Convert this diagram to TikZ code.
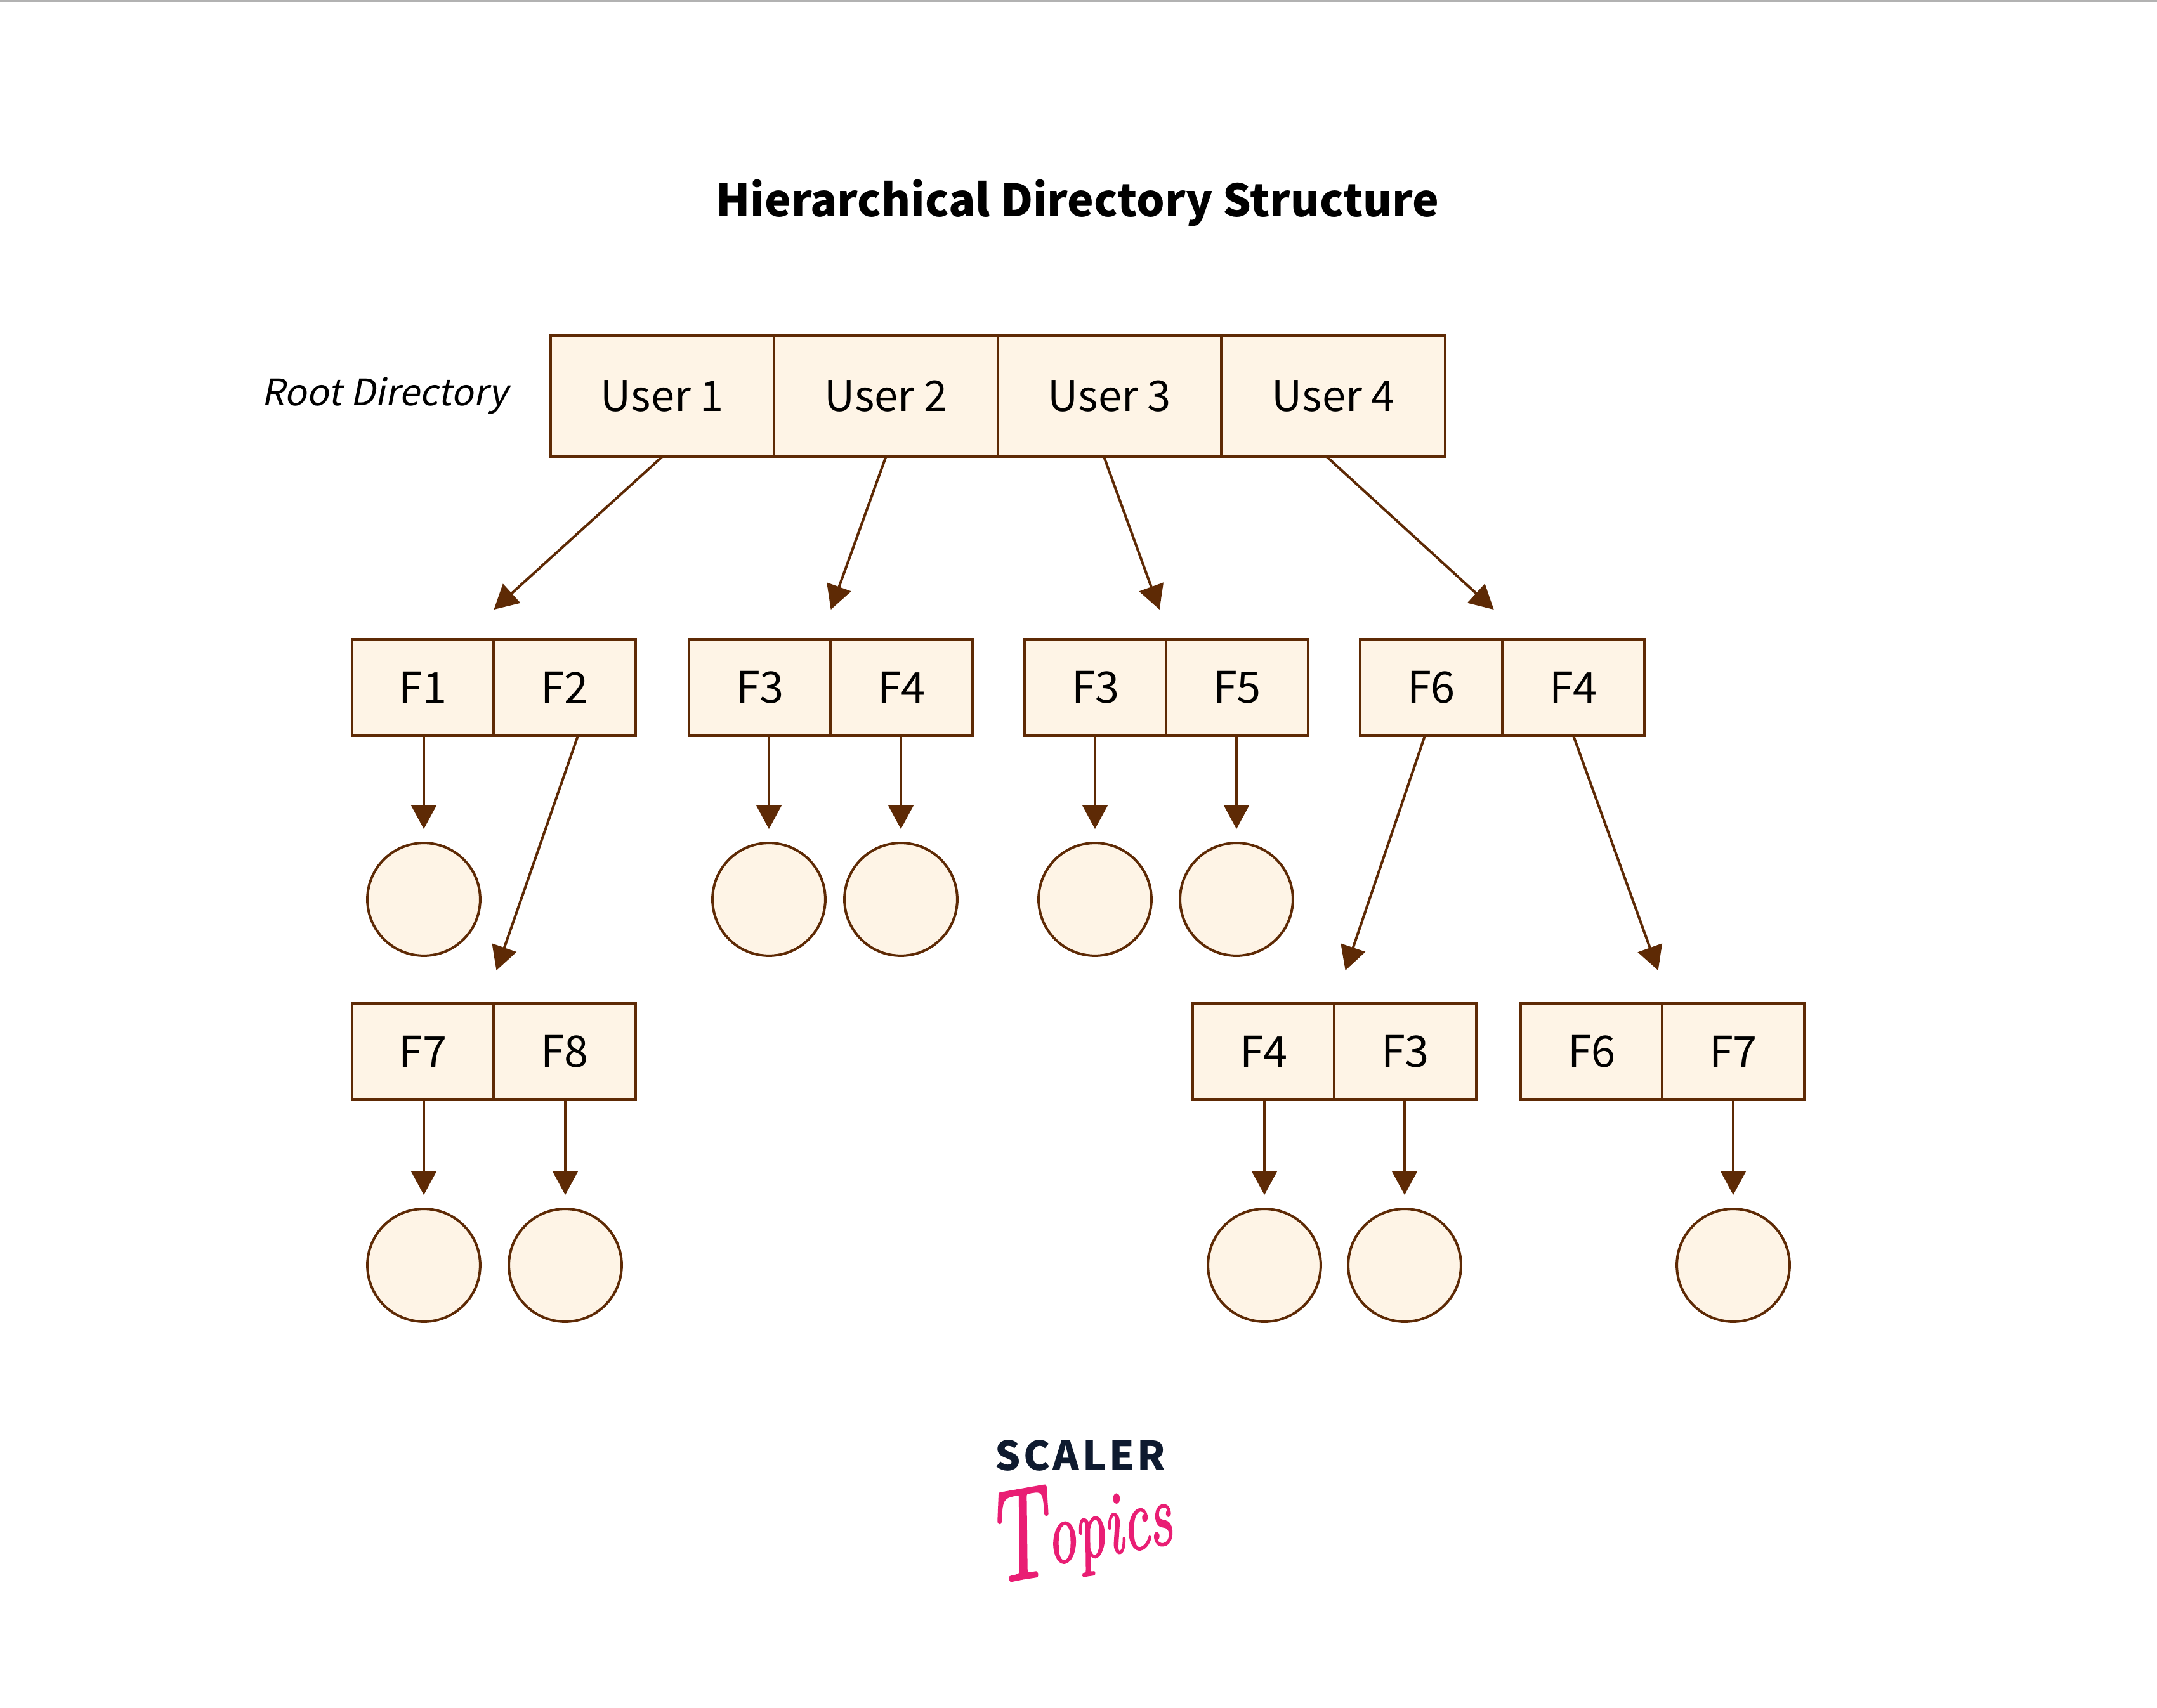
\documentclass[tikz,border=0pt]{standalone}
\usepackage{fontspec}
\setmainfont{Noto Sans CJK SC}
\newfontfamily\slantfont[FakeSlant=0.2]{Noto Sans CJK SC}
\newfontfamily\logofont[ItalicFeatures={FakeBold=2}]{Latin Modern Roman}
\usepackage{tikz}
\usetikzlibrary{arrows.meta,calc,positioning}
\usepackage{xcolor}
\definecolor{edgebrown}{HTML}{5E2A05}
\definecolor{cream}{HTML}{FEF4E6}
\definecolor{logonavy}{HTML}{0E1A2F}
\definecolor{logopink}{HTML}{E91E74}

\begin{document}
\begin{tikzpicture}[
  box/.style={draw=edgebrown, fill=cream, line width=0.04cm, inner sep=0pt, outer sep=0pt},
  user/.style={box, minimum width=3.529cm, minimum height=1.908cm, font=\fontsize{19}{24}\selectfont},
  file/.style={box, minimum width=2.233cm, minimum height=1.518cm, font=\fontsize{19.5}{24}\selectfont},
  leaf/.style={box, circle, minimum size=1.778cm},
  arr/.style={-{Triangle[length=0.38cm,width=0.4cm]}, draw=edgebrown, line width=0.04cm},
  down/.style={arr, shorten >=0.22cm},
]
\fill[white] (0,0) rectangle (34,26.92);
\useasboundingbox (0,0) rectangle (34,26.92);
\draw[color=black!30, line width=0.03cm] (0,26.905) -- (34,26.905);

% --- title ---
\node[font=\fontsize{20}{26}\selectfont\bfseries] (title) at (16.98, 23.72) {Hierarchical Directory Structure};

% --- root directory ---
\node[user] (user1) at (10.44, 20.675) {User 1};
\node[user] (user2) at (13.965, 20.675) {User 2};
\node[user] (user3) at (17.49, 20.675) {User 3};
\node[user] (user4) at (21.02, 20.675) {User 4};
\node[font=\fontsize{16.4}{20}\selectfont\slantfont, left=0.55cm of user1, yshift=0.01cm] (root) {Root Directory};

% --- second level ---
\node[file] (fa1) at (6.668, 16.08) {F1};
\node[file] (fa2) at (8.90, 16.08) {F2};
\node[file] (fb1) at (11.98, 16.08) {F3};
\node[file] (fb2) at (14.21, 16.08) {F4};
\node[file] (fc1) at (17.27, 16.08) {F3};
\node[file] (fc2) at (19.50, 16.08) {F5};
\node[file] (fd1) at (22.56, 16.08) {F6};
\node[file] (fd2) at (24.80, 16.08) {F4};

% --- third level ---
\node[file] (ga1) at (6.668, 10.34) {F7};
\node[file] (ga2) at (8.90, 10.34) {F8};
\node[file] (gb1) at (19.92, 10.34) {F4};
\node[file] (gb2) at (22.15, 10.34) {F3};
\node[file] (gc1) at (25.09, 10.34) {F6};
\node[file] (gc2) at (27.32, 10.34) {F7};

% --- files ---
\node[leaf] (la1) at (6.68, 12.74) {};
\node[leaf] (lb1) at (12.12, 12.74) {};
\node[leaf] (lb2) at (14.20, 12.74) {};
\node[leaf] (lc1) at (17.26, 12.74) {};
\node[leaf] (lc2) at (19.49, 12.74) {};
\node[leaf] (ma1) at (6.68, 6.97) {};
\node[leaf] (ma2) at (8.91, 6.97) {};
\node[leaf] (mb1) at (19.93, 6.97) {};
\node[leaf] (mb2) at (22.14, 6.97) {};
\node[leaf] (mc2) at (27.32, 6.97) {};

% free ends of the slanted arrows
\coordinate (tip1) at ([yshift=0.47cm]fa1.north east);
\coordinate (tip2) at ([yshift=0.47cm]fb1.north east);
\coordinate (tip3) at ([xshift=-0.11cm,yshift=0.47cm]fc1.north east);
\coordinate (tip4) at ([xshift=-0.13cm,yshift=0.47cm]fd1.north east);
\coordinate (tip5) at ([xshift=0.04cm,yshift=0.52cm]ga1.north east);
\coordinate (tip6) at ([xshift=0.17cm,yshift=0.52cm]gb1.north east);
\coordinate (tip7) at ([xshift=-0.07cm,yshift=0.52cm]gc1.north east);

% --- root to second level ---
\draw[arr] (user1.south) -- (tip1);
\draw[arr] (user2.south) -- (tip2);
\draw[arr] ([xshift=-0.09cm]user3.south) -- (tip3);
\draw[arr] ([xshift=-0.11cm]user4.south) -- (tip4);

% --- second level down ---
\draw[down] (la1.north |- fa1.south) -- (la1.north);
\draw[down] (lb1.north |- fb1.south) -- (lb1.north);
\draw[down] (lb2.north |- fb2.south) -- (lb2.north);
\draw[down] (lc1.north |- fc1.south) -- (lc1.north);
\draw[down] (lc2.north |- fc2.south) -- (lc2.north);
\draw[arr] ([xshift=0.21cm]fa2.south) -- (tip5);
\draw[arr] ([xshift=-0.1cm]fd1.south) -- (tip6);
\draw[arr] (fd2.south) -- (tip7);

% --- third level down ---
\draw[down] (ma1.north |- ga1.south) -- (ma1.north);
\draw[down] (ma2.north |- ga2.south) -- (ma2.north);
\draw[down] (mb1.north |- gb1.south) -- (mb1.north);
\draw[down] (mb2.north |- gb2.south) -- (mb2.north);
\draw[down] (mc2.north |- gc2.south) -- (mc2.north);

% --- logo ---
\node[font=\fontsize{18}{22}\selectfont\bfseries, text=logonavy, inner sep=0pt] (scaler) at (17.03, 3.97) {S\kern0.07em C\kern0.07em A\kern0.07em L\kern0.07em E\kern0.07em R};
\node[font=\logofont\itshape\fontsize{40}{44}\selectfont, text=logopink, rotate=10, xscale=0.66, inner sep=0pt] (topics) at (17.0, 2.82) {\raisebox{-4pt}{\fontsize{58}{60}\selectfont T}\kern-0.02em opics};
\end{tikzpicture}
\end{document}
